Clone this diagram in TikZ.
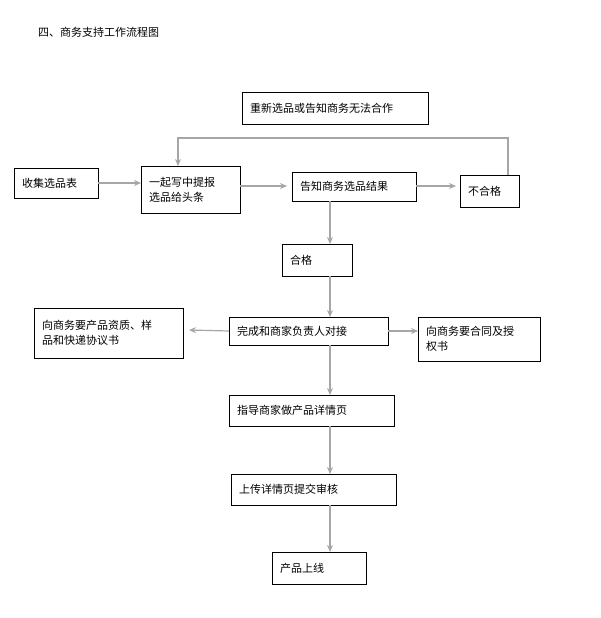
\documentclass[tikz,border=0pt]{standalone}
\usepackage{fontspec}
\setmainfont{Noto Sans CJK SC}
\usetikzlibrary{arrows.meta}
\begin{document}
\begin{tikzpicture}[x=1pt,y=-1pt,
  bx/.style={draw=black,line width=0.6pt,fill=white},
  tx/.style={anchor=west,font=\fontsize{11}{15}\selectfont,align=left,inner sep=0pt},
  ar/.style={draw=gray!70,line width=1.2pt,-{Stealth[length=7pt,width=6pt]}}]
\useasboundingbox (0,0) rectangle (600,618);
\node[tx] (title) at (38,32) {四、商务支持工作流程图};
\newcommand\bxn[6]{\draw[bx] (#2,#3) rectangle (#4,#5); \coordinate (#1) at ({(#2+#4)/2},{(#3+#5)/2});
  \node[tx] (#1t) at ({#2+8},{(#3+#5)/2}) {#6};
  \coordinate (#1N) at ({(#2+#4)/2},#3); \coordinate (#1S) at ({(#2+#4)/2},#5);
  \coordinate (#1W) at (#2,{(#3+#5)/2}); \coordinate (#1E) at (#4,{(#3+#5)/2});}
\bxn{re}{242}{92}{428}{124}{重新选品或告知商务无法合作}
\bxn{sj}{14}{168}{98}{198}{收集选品表}
\bxn{yq}{141}{166}{240}{213}{一起写中提报\\选品给头条}
\bxn{gz}{292}{172}{416}{201}{告知商务选品结果}
\bxn{bh}{460}{175}{519}{207}{不合格}
\bxn{hg}{282}{244}{352}{276}{合格}
\bxn{zz}{34}{308}{183}{358}{向商务要产品资质、样\\品和快递协议书}
\bxn{wc}{229}{317}{388}{345}{完成和商家负责人对接}
\bxn{ht}{418}{317}{540}{361}{向商务要合同及授\\权书}
\bxn{zd}{229}{395}{394}{426}{指导商家做产品详情页}
\bxn{sc}{231}{474}{396}{505}{上传详情页提交审核}
\bxn{sx}{272}{552}{366}{584}{产品上线}
\coordinate (l1) at (508,138); \coordinate (l2) at (178,138);
\draw[ar] (508,175) -- (l1) -- (l2) -- (178,166);
\draw[ar] (98,183) -- (141,183);
\draw[ar] (240,186) -- (287,186);
\draw[ar] (416,186) -- (456,186);
\draw[ar] (330,201) -- (330,244);
\draw[ar] (330,276) -- (330,317);
\draw[ar] (wcW) -- (189,330);
\draw[ar] (wcE) -- (418,331);
\draw[ar] (330,345) -- (330,395);
\draw[ar] (330,426) -- (330,474);
\draw[ar] (330,505) -- (330,552);
\end{tikzpicture}
\end{document}
